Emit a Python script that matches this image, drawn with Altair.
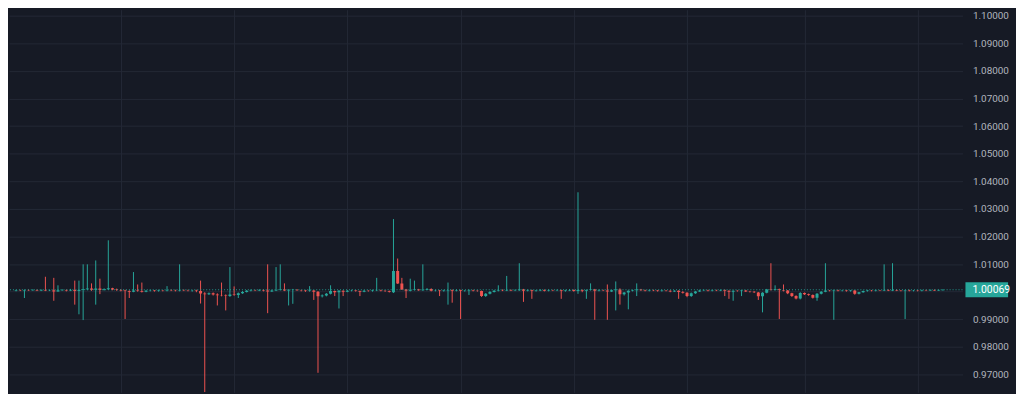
import altair as alt
import pandas as pd

# Candle values in units of 0.0001 relative to 1.00000
OPEN = [
    3, 5, 4, 6, 5, 6, 4, 6, 4, 5,
    1, 5, 6, 4, 6, 2, 6, 9, 11, 7,
    11, 6, 9, 12, 8, 6, 4, 2, 0, 4,
    2, 0, 3, 4, 2, 4, 3, 5, 4, 3,
    5, 4, 3, 4, 2, -7, -9, -6, -10, -13,
    -14, -16, -10, -12, -6, -1, 3, 5, 4, 6,
    4, 1, 4, 6, 8, 4, 6, 7, 5, 4,
    2, 4, 0, -17, -14, -8, 2, -2, 3, 0,
    3, 4, 2, 0, 3, 2, 4, 5, 3, 2,
    -2, 75, 30, 8, 3, 6, 8, 5, 7, 10,
    3, 4, 2, 4, 6, 3, 5, 2, 3, 5,
    3, 2, -16, -8, -1, 3, 5, 4, 6, 4,
    5, 8, 3, 5, 2, 4, 6, 3, 5, 4,
    5, 2, 4, 6, 2, 6, 3, 6, 8, 3,
    5, 4, 1, 5, 8, -9, -3, 3, 5, 8,
    5, 3, 5, 4, 2, 4, 3, 1, 3, -1,
    -4, -16, -6, 1, 4, 5, 3, 5, 4, 6,
    3, 0, 3, 2, 4, 1, 0, -3, -17, -4,
    8, 6, 9, 6, 4, -6, -16, -25, -5, -9,
    -12, -22, -8, 0, 4, 3, 5, 3, 4, 2,
    4, -8, -2, 2, 4, 3, 5, 4, 6, 4,
    6, 4, 3, 5, 3, 4, 3, 5, 4, 6, 4, 5,
]
CLOSE = [
    5, 4, 6, 5, 6, 4, 6, 4, 5, 1,
    5, 6, 4, 6, 2, 6, 9, 11, 7, 11,
    6, 9, 12, 8, 6, 4, 2, 0, 4, 2,
    0, 3, 4, 2, 4, 3, 5, 4, 3, 5,
    4, 3, 4, 2, -7, -9, -6, -10, -13, -14,
    -16, -10, -12, -6, -1, 3, 5, 4, 6, 4,
    1, 4, 6, 8, 4, 6, 7, 5, 4, 2,
    4, 0, -17, -14, -8, 2, -2, 3, 0, 3,
    4, 2, 0, 3, 2, 4, 5, 3, 2, 0,
    75, 30, 8, 3, 6, 8, 5, 7, 10, 3,
    4, 2, 4, 6, 3, 5, 2, 3, 5, 3,
    2, -16, -8, -1, 3, 5, 4, 6, 4, 5,
    8, 3, 5, 2, 4, 6, 3, 5, 4, 5,
    2, 4, 6, 2, 6, 3, 6, 8, 3, 5,
    4, 1, 5, 8, -9, -3, 3, 5, 8, 5,
    3, 5, 4, 2, 4, 3, 1, 3, -1, -4,
    -16, -6, 1, 4, 5, 3, 5, 4, 6, 3,
    0, 3, 2, 4, 1, 0, -2, -17, -4, 8,
    6, 9, 6, 4, -6, -16, -25, -5, -9, -12,
    -22, -8, 0, 4, 3, 5, 3, 4, 2, 4,
    -8, -2, 2, 4, 3, 5, 4, 6, 4, 6,
    4, 3, 5, 3, 4, 3, 5, 4, 6, 4, 6, 6.9,
]
HIGH = [
    7, 7, 8, 8, 9, 8, 8, 54, 7, 50,
    23, 9, 8, 10, 40, 40, 99, 99, 30, 113,
    47, 12, 186, 14, 11, 9, 7, 5, 71, 26,
    33, 6, 7, 6, 7, 6, 20, 8, 7, 99,
    8, 7, 6, 7, 40, -2, -3, -3, -6, 33,
    -10, 89, 19, -3, 2, 6, 8, 7, 9, 8,
    99, 7, 89, 99, 30, 9, 10, 9, 7, 6,
    20, 6, 2, -10, -5, 23, 4, 6, 5, 6,
    7, 6, 4, 6, 5, 7, 50, 7, 5, 4,
    263, 120, 50, 10, 47, 40, 10, 99, 13, 12,
    7, 6, 7, 33, 8, 8, 7, 6, 8, 7,
    5, 4, -5, 2, 6, 23, 8, 57, 8, 8,
    103, 10, 8, 7, 6, 9, 8, 8, 7, 8,
    7, 7, 9, 8, 360, 8, 8, 30, 10, 8,
    7, 26, 7, 37, 12, -1, 5, 7, 30, 10,
    7, 8, 7, 6, 7, 6, 5, 5, 5, 2,
    -2, -3, 3, 7, 8, 7, 7, 7, 8, 8,
    5, 5, 5, 6, 6, 3, 2, -1, -2, 10,
    103, 23, 11, 26, 6, -4, -13, -2, -3, -7,
    -10, -5, 2, 103, 6, 7, 7, 6, 6, 6,
    6, -1, 4, 6, 6, 7, 6, 99, 8, 103,
    8, 6, 7, 7, 6, 6, 7, 7, 8, 8, 8, 8,
]
LOW = [
    1, 2, -23, 3, 3, 2, 2, 2, 2, -33,
    0, 3, 1, 2, -47, -82, -103, 5, 3, -47,
    -9, 4, 6, 5, 3, 1, -99, -23, -2, 0,
    -3, -2, 1, 0, 0, 1, 1, 2, 1, 1,
    2, 1, 0, -2, -43, -364, -12, -14, -50, -17,
    -68, -19, -15, -23, -8, -3, 1, 2, 2, 1,
    -78, -1, 2, 4, 2, -50, -44, 3, 1, -1,
    0, -30, -294, -21, -17, -10, -16, -61, -16, -2,
    1, 0, -16, -2, 0, 0, 2, 1, -1, -3,
    -5, 28, 6, -23, 1, 4, 3, 3, 5, 1,
    1, -16, 0, -47, -40, 1, -99, 0, -12, 1,
    0, -19, -19, -10, -3, 1, 2, 2, 2, 2,
    3, -37, 1, -26, 0, 2, 1, 1, 2, 2,
    -26, 0, 2, 0, -8, -2, -26, 4, -102, 1,
    2, -102, -1, -68, -47, -14, -64, 1, -16, 3,
    1, 1, 2, 0, 0, 1, -2, -1, -26, -7,
    -20, -19, -8, -1, 2, 1, 1, 2, 2, -16,
    -26, -33, 0, -16, -1, -3, -5, -30, -75, -6,
    4, 4, -99, 1, -9, -19, -28, -28, -12, -15,
    -25, -33, -10, -2, 1, -102, 1, 1, 0, 0,
    -11, -10, -4, 0, 1, 1, 2, 2, 2, 2,
    2, 1, -99, 1, 1, 1, 1, 2, 3, 3, 3, 4,
]
Y_TICKS = [0.97, 0.98, 0.99, 1.00, 1.01, 1.02, 1.03, 1.04, 1.05, 1.06, 1.07, 1.08, 1.09, 1.10]
X_GRID = [25, 52, 79, 106, 133, 160, 188, 215]
LAST_LABEL = "1.00069"

UP = "#26a69a"
DOWN = "#ef5350"
BG = "#161a25"
GRID = "#232836"
TEXT = "#b2b5be"

df = pd.DataFrame({
    "i": list(range(len(OPEN))),
    "open": [1 + v / 10000 for v in OPEN],
    "close": [1 + v / 10000 for v in CLOSE],
    "high": [1 + v / 10000 for v in HIGH],
    "low": [1 + v / 10000 for v in LOW],
})
df["dir"] = ["up" if c >= o else "down" for o, c in zip(OPEN, CLOSE)]

last_price = df["close"].iloc[-1]
tag = pd.DataFrame({"price": [last_price], "label": [LAST_LABEL]})

xscale = alt.Scale(domain=[-0.5, 224.5], nice=False, zero=False)
yscale = alt.Scale(domain=[0.96354, 1.10215], nice=False, zero=False)
color = alt.Color("dir:N", scale=alt.Scale(domain=["up", "down"], range=[UP, DOWN]), legend=None)

xaxis = alt.Axis(values=X_GRID, labels=False, ticks=False, domain=False, title=None,
                 grid=True, gridColor=GRID, gridWidth=1)
# the 1.00000 label sits under the last-price tag, so it is left blank
yaxis = alt.Axis(values=Y_TICKS, orient="right", format=".5f", ticks=False, domain=False,
                 title=None, grid=True, gridColor=GRID, gridWidth=1, labelColor=TEXT,
                 labelFont="Roboto", labelFontSize=10, labelPadding=10,
                 labelOverlap=False, labelFlush=False,
                 labelExpr="abs(datum.value - 1) < 0.000001 ? '' : datum.label")

base = alt.Chart(df)
wicks = base.mark_rule(strokeWidth=1, clip=True).encode(
    x=alt.X("i:Q", scale=xscale, axis=xaxis),
    y=alt.Y("low:Q", scale=yscale, axis=yaxis),
    y2="high:Q",
    color=color,
)
bodies = base.mark_bar(size=3, clip=True).encode(
    x=alt.X("i:Q", scale=xscale, axis=xaxis),
    y=alt.Y("open:Q", scale=yscale, axis=yaxis),
    y2="close:Q",
    color=color,
)
price_line = alt.Chart(tag).mark_rule(color=UP, strokeDash=[1, 2], strokeWidth=1, opacity=0.9).encode(
    y=alt.Y("price:Q", scale=yscale, axis=yaxis)
)
tag_box = alt.Chart(tag).mark_rule(color=UP, strokeWidth=15, strokeCap="butt").encode(
    x=alt.value(965), x2=alt.value(1008),
    y=alt.Y("price:Q", scale=yscale, axis=yaxis),
)
tag_text = alt.Chart(tag).mark_text(align="left", baseline="middle", color="#ffffff",
                                    font="Roboto", fontSize=10.5).encode(
    x=alt.value(972), y=alt.Y("price:Q", scale=yscale, axis=yaxis), text="label:N"
)

chart = alt.layer(wicks, bodies, price_line, tag_box, tag_text).properties(
    width=962, height=386, padding=0
).configure(background=BG).configure_view(stroke=None)

chart.save("out.html", embed_options={"renderer": "svg", "actions": False})
